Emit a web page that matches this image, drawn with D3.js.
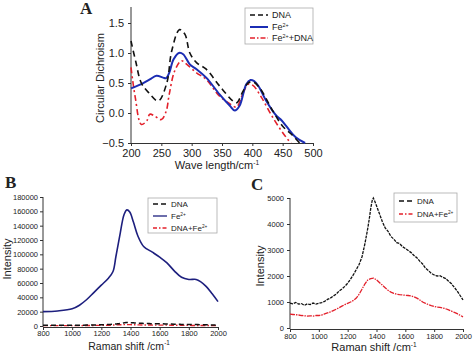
<!DOCTYPE html>
<html>
<head>
<meta charset="utf-8">
<script src="https://cdn.jsdelivr.net/npm/d3@7"></script>
<style>
  body { margin: 0; background: #fff; }
  text { font-family: Arial, "Liberation Sans", sans-serif; fill: #222; }
  .axis path, .axis line { stroke: #333; }
</style>
</head>
<body>
<script>
// panel A: circular dichroism, [wavelength, CD]
const cdDna = [[200,1.2],[208,0.85],[217,0.5],[230,0.33],[245,0.2],[259,0.5],[267,1.03],[280,1.39],[289,1.31],[297,1.0],[308,0.84],[324,0.73],[346,0.45],[368,0.2],[374,0.17],[385,0.37],[393,0.5],[401,0.52],[412,0.42],[434,0.03],[450,-0.22],[467,-0.38],[478,-0.5]]
const cdFe = [[200,0.41],[217,0.48],[231,0.56],[242,0.62],[253,0.59],[258,0.58],[263,0.67],[270,0.89],[279,1.0],[286,0.98],[297,0.81],[308,0.73],[324,0.59],[346,0.31],[363,0.12],[371,0.04],[379,0.12],[390,0.48],[397,0.55],[403,0.53],[410,0.45],[423,0.2],[440,-0.05],[448,-0.12],[456,-0.22],[472,-0.41],[487,-0.5]]
const cdFeDna = [[200,0.76],[207,0.26],[217,-0.19],[226,-0.13],[231,-0.02],[239,-0.05],[250,-0.11],[258,0.03],[263,0.31],[272,0.7],[283,0.87],[292,0.81],[308,0.67],[324,0.56],[346,0.28],[365,0.14],[374,0.1],[385,0.34],[393,0.48],[401,0.46],[415,0.26],[434,-0.08],[456,-0.41],[464,-0.5]]

// panel B: Raman, Fe2+ alone, [shift, intensity]
const ramanFe = [[800,20000],[900,21000],[1000,24000],[1050,29000],[1100,37000],[1150,47000],[1200,57000],[1250,67000],[1280,76000],[1300,97000],[1330,130000],[1355,155000],[1375,162000],[1395,159000],[1420,145000],[1450,126000],[1490,111000],[1550,103000],[1600,96000],[1650,88000],[1700,77000],[1750,68000],[1800,65000],[1850,65000],[1880,62000],[1920,55000],[1960,45000],[2000,34000]]

// panel C: Raman, DNA and DNA + Fe2+
const ramanDna = [[800,960],[820,930],[840,980],[860,920],[880,940],[900,870],[920,930],[940,900],[960,960],[980,920],[1000,950],[1020,980],[1040,1020],[1060,1100],[1080,1150],[1100,1230],[1120,1300],[1140,1420],[1160,1500],[1180,1600],[1200,1720],[1220,1880],[1240,2050],[1260,2250],[1280,2450],[1300,2750],[1310,3000],[1320,3250],[1330,3550],[1340,3850],[1350,4200],[1360,4600],[1370,4900],[1378,5000],[1390,4850],[1400,4700],[1420,4400],[1440,4100],[1460,3850],[1480,3720],[1500,3520],[1520,3420],[1540,3280],[1560,3250],[1580,3130],[1600,3060],[1620,2980],[1640,2900],[1660,2790],[1680,2700],[1700,2570],[1720,2460],[1740,2300],[1760,2210],[1780,2100],[1800,2040],[1820,2000],[1840,2010],[1860,1950],[1880,1900],[1900,1800],[1920,1700],[1940,1560],[1960,1420],[1980,1250],[2000,1080]]
const ramanDnaFe = [[800,530],[820,520],[840,510],[860,500],[880,480],[900,470],[920,460],[940,470],[960,460],[980,480],[1000,480],[1020,500],[1040,540],[1060,580],[1080,620],[1100,670],[1120,720],[1140,780],[1160,840],[1180,900],[1200,950],[1220,1000],[1240,1060],[1260,1150],[1280,1300],[1300,1500],[1320,1700],[1340,1850],[1360,1900],[1380,1920],[1400,1850],[1420,1750],[1440,1650],[1460,1550],[1480,1450],[1500,1380],[1520,1330],[1540,1300],[1560,1280],[1580,1270],[1600,1260],[1620,1250],[1640,1230],[1660,1200],[1680,1150],[1700,1080],[1720,1000],[1740,950],[1760,900],[1780,860],[1800,830],[1820,800],[1840,790],[1860,770],[1880,740],[1900,700],[1920,650],[1940,600],[1960,550],[1980,490],[2000,430]]

const ticksA_x = [200,250,300,350,400,450,500]
const ticksA_y = [-0.5,0.0,0.5,1.0,1.5]
const ticksB_y = [0,20000,40000,60000,80000,100000,120000,140000,160000,180000]
const ticksC_y = [0,1000,2000,3000,4000,5000]
const ticksRaman = [800,1000,1200,1400,1600,1800,2000]

const BLACK = '#111', BLUE = '#1b2db4', NAVY = '#1d1f7e', RED = '#e3202b'

const svg = d3.select('body').append('svg').attr('width', 474).attr('height', 353)
svg.append('rect').attr('width', 474).attr('height', 353).attr('fill', '#fff')

function panel(o) {
  const x = d3.scaleLinear().domain(o.xd).range(o.xr)
  const y = d3.scaleLinear().domain(o.yd).range(o.yr)
  const g = svg.append('g')

  const ax = g.append('g').attr('class', 'axis')
    .attr('transform', `translate(0,${o.axisY})`)
    .call(d3.axisBottom(x).tickValues(o.xt).tickSize(3).tickSizeOuter(0).tickPadding(o.pad).tickFormat(d3.format('d')))
  ax.selectAll('text').style('font-size', o.fs + 'px').attr('fill', '#222')

  const ay = g.append('g').attr('class', 'axis')
    .attr('transform', `translate(${o.xr[0]},0)`)
    .call(d3.axisLeft(y).tickValues(o.yt).tickSize(3).tickSizeOuter(0).tickPadding(o.pad + 1).tickFormat(o.yf))
  ay.selectAll('text').style('font-size', o.fs + 'px').attr('fill', '#222')
  ay.select('.domain').attr('d', `M0,${o.axisY}V${o.yr[1] - (o.top || 0)}`)

  const line = d3.line().x(d => x(d[0])).y(d => y(d[1])).curve(o.curve || d3.curveLinear)
  o.series.forEach(s => {
    g.append('path').datum(s.data).attr('d', line)
      .attr('fill', 'none').attr('stroke', s.color).attr('stroke-width', s.w)
      .attr('stroke-dasharray', s.dash || null)
  })
  return { x, y, g }
}

function label(x, y, txt, size, rot, weight) {
  const t = svg.append('text').attr('text-anchor', 'middle').style('font-size', size + 'px')
    .attr('transform', `translate(${x},${y})` + (rot ? ` rotate(${rot})` : ''))
  if (weight) t.style('font-weight', weight)
  return t
}

function cmLabel(x, y, txt, size, rot) {
  const t = label(x, y, '', size, rot)
  t.append('tspan').text(txt)
  t.append('tspan').attr('dy', -size * 0.4).style('font-size', size * 0.6 + 'px').text('-1')
  return t
}

function letter(x, y, s) {
  svg.append('text').attr('x', x).attr('y', y).text(s)
    .style('font-family', '"Liberation Serif", "Times New Roman", serif')
    .style('font-weight', 'bold').style('font-size', '17px')
}

function legend(x0, y0, w, h, items, fs) {
  const g = svg.append('g')
  g.append('rect').attr('x', x0).attr('y', y0).attr('width', w).attr('height', h)
    .attr('fill', '#fff').attr('stroke', '#aaa').attr('stroke-width', 0.8)
  items.forEach(it => {
    g.append('line').attr('x1', x0 + it.l0).attr('x2', x0 + it.l1).attr('y1', it.y).attr('y2', it.y)
      .attr('stroke', it.color).attr('stroke-width', it.w).attr('stroke-dasharray', it.dash || null)
    const t = g.append('text').attr('x', x0 + it.l1 + 4).attr('y', it.y + fs * 0.35).style('font-size', fs + 'px')
    it.parts.forEach(p => {
      if (p.sup) t.append('tspan').attr('dy', -fs * 0.4).style('font-size', fs * 0.6 + 'px').text(p.t)
      else t.append('tspan').attr('dy', p.down ? fs * 0.4 : 0).text(p.t)
    })
  })
}

// ---- A
panel({
  xd: [200, 500], xr: [131, 313], yd: [-0.5, 1.5], yr: [143, 23], top: 16,
  axisY: 143, xt: ticksA_x, yt: ticksA_y, fs: 11, pad: 3, yf: d3.format('.1f'),
  curve: d3.curveCatmullRom,
  series: [
    { data: cdFeDna, color: RED, w: 1.6, dash: '6,3,2,3' },
    { data: cdFe, color: BLUE, w: 2 },
    { data: cdDna, color: BLACK, w: 1.6, dash: '6,4' }
  ]
})
letter(80, 14, 'A')
label(104, 78, '', 11, -90).text('Circular Dichroism')
cmLabel(217, 169, 'Wave length/cm', 11)
legend(245, 8, 68, 36, [
  { y: 15, l0: 5, l1: 23, color: BLACK, w: 1.6, dash: '5,3', parts: [{ t: 'DNA' }] },
  { y: 27, l0: 5, l1: 23, color: BLUE, w: 2, parts: [{ t: 'Fe' }, { t: '2+', sup: 1 }] },
  { y: 38, l0: 5, l1: 23, color: RED, w: 1.6, dash: '5,2,1.5,2', parts: [{ t: 'Fe' }, { t: '2+', sup: 1 }, { t: '+DNA', down: 1 }] }
], 9)

// ---- B
panel({
  xd: [800, 2000], xr: [43, 218], yd: [0, 180000], yr: [326, 197],
  axisY: 327, xt: ticksRaman, yt: ticksB_y, fs: 7.5, pad: 1, yf: d3.format('d'),
  curve: d3.curveCatmullRom,
  series: [
    { data: ramanFe, color: NAVY, w: 1.6 },
    { data: ramanDnaFe, color: RED, w: 1.4, dash: '5,2,1.5,2' },
    { data: ramanDna, color: BLACK, w: 1.5, dash: '5,3' }
  ]
})
letter(5, 188, 'B')
label(11, 259, '', 11, -90).text('Intensity')
cmLabel(129, 349.5, 'Raman shift /cm', 10.5)
legend(148, 198, 69, 35, [
  { y: 204, l0: 5, l1: 19, color: BLACK, w: 1.6, dash: '5,3', parts: [{ t: 'DNA' }] },
  { y: 216, l0: 5, l1: 19, color: NAVY, w: 1.3, parts: [{ t: 'Fe' }, { t: '2+', sup: 1 }] },
  { y: 228, l0: 5, l1: 19, color: RED, w: 1.3, dash: '4,2,1.5,2', parts: [{ t: 'DNA+Fe' }, { t: '2+', sup: 1 }] }
], 8)

// ---- C
panel({
  xd: [800, 2000], xr: [290, 463], yd: [0, 5000], yr: [328, 198],
  axisY: 329, xt: ticksRaman, yt: ticksC_y, fs: 7.5, pad: 2, yf: d3.format('d'),
  series: [
    { data: ramanDnaFe, color: RED, w: 1.3, dash: '5,1,1.5,1' },
    { data: ramanDna, color: BLACK, w: 1.3, dash: '3,1' }
  ]
})
letter(251, 190, 'C')
label(264, 266, '', 11, -90).text('Intensity')
cmLabel(374, 351, 'Raman shift /cm', 11)
legend(394, 193, 63, 29, [
  { y: 201, l0: 5, l1: 19, color: BLACK, w: 1.6, dash: '5,3', parts: [{ t: 'DNA' }] },
  { y: 214, l0: 5, l1: 19, color: RED, w: 1.3, dash: '4,2,1.5,2', parts: [{ t: 'DNA+Fe' }, { t: '2+', sup: 1 }] }
], 8)
</script>
</body>
</html>
